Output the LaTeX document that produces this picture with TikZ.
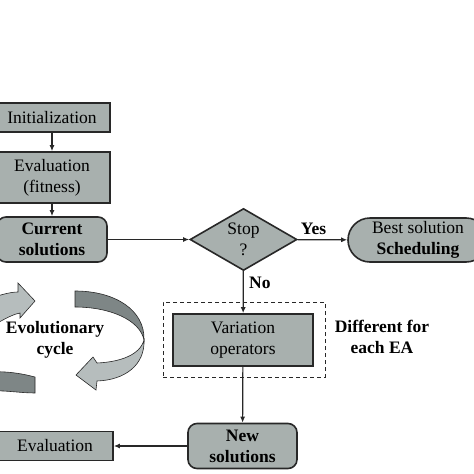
\documentclass[tikz,border=0pt]{standalone}
\usepackage{fontspec}
\setmainfont{Liberation Serif}
\usetikzlibrary{shapes.geometric, arrows.meta}
\definecolor{boxgray}{RGB}{168,176,174}
\definecolor{ribbondark}{RGB}{126,134,134}
\definecolor{ribbonlight}{RGB}{182,189,189}
\definecolor{linegray}{RGB}{40,40,40}

\begin{document}
\begin{tikzpicture}[x = 1pt, y = -1pt,
    font = \fontsize{17.5}{21}\selectfont,
    box/.style      = {draw = linegray, line width = 1.6pt, fill = boxgray,
                       inner sep = 0pt, align = center},
    roundbox/.style = {box, rounded corners = 9pt, font = \fontsize{17.5}{21}\selectfont\bfseries},
    decision/.style = {box, diamond, aspect = 1.73},
    arr/.style      = {draw = linegray, line width = 1.2pt, -{Latex[length = 6pt, width = 5pt]}},
    ribbon/.style   = {draw = linegray, line width = 0.6pt, fill = #1},
    bold/.style     = {font = \fontsize{17.5}{21}\selectfont\bfseries, align = center}]
    \clip (0, 0) rectangle (474, 474);
    \fill[white] (0, 0) rectangle (474, 474);
    % boxes of the flow chart
    \node[box, minimum width = 116pt, minimum height = 29pt]      (init)  at ( 52,   117.5) {Initialization};
    \node[box, minimum width = 116pt, minimum height = 51pt]      (eval1) at ( 52,   177.5) {Evaluation\\(fitness)};
    \node[roundbox, minimum width = 110pt, minimum height = 45pt] (curr)  at ( 52,   239.5) {Current\\solutions};
    \node[decision, minimum width = 107pt, minimum height = 62pt] (stop)  at (243.5, 239.5) {Stop\\?};
    \node[box, rounded corners = 22pt, minimum width = 140pt, minimum height = 44pt]
                                                                  (best)  at (418,   240)   {Best solution\\\textbf{Scheduling}};
    \node[draw = linegray, line width = 1pt, dash pattern = on 4pt off 3pt,
          minimum width = 162pt, minimum height = 75pt]           (eabox) at (244,   339.5) {};
    \node[box, minimum width = 140pt, minimum height = 52pt]      (varop) at (243,   340)   {Variation\\operators};
    \node[roundbox, minimum width = 109pt, minimum height = 45pt] (new)   at (242.5, 446)   {New\\solutions};
    \node[box, minimum width = 116pt, minimum height = 29pt]      (eval2) at ( 55,   446)   {Evaluation};
    \node[bold] (diff) at (382, 337)   {Different for\\each EA};
    \node[bold] (cyc)  at ( 55, 339.5) {Evolutionary\\cycle};
    % arrows between the boxes
    \draw[arr] (init)  -- (eval1);
    \draw[arr] (eval1) -- (curr);
    \draw[arr] (curr)  -- (stop);
    \draw[arr] (stop)  -- (best)  node[bold, pos = 0.32, above = 1pt] {Yes};
    \draw[arr] (stop)  -- (varop) node[bold, pos = 0.27, right = 2pt] {No};
    \draw[arr] (varop) -- (new);
    \draw[arr] (new)   -- (eval2);
    % ribbons of the evolutionary cycle
    \draw[ribbon = ribbondark]  (75, 291) .. controls (115, 291) and (145, 310) .. (144, 340)
                                .. controls (140, 320) and (110, 307) .. (75, 307) -- cycle;
    \draw[ribbon = ribbonlight] (144, 340) .. controls (140, 355) and (120, 362) .. (97, 363)
                                -- (93, 357) -- (76, 375) -- (96, 390) -- (97, 381)
                                .. controls (125, 380) and (145, 365) .. (144, 340) -- cycle;
    \draw[ribbon = ribbondark]  (35, 377) .. controls (20, 373) and (5, 371) .. (-12, 372)
                                -- (-12, 391) .. controls (5, 390) and (20, 393) .. (35, 393) -- cycle;
    \draw[ribbon = ribbonlight] (-12, 299) .. controls (0, 295) and (10, 292) .. (18, 292)
                                -- (18, 283) -- (35, 301) -- (20, 318) -- (20, 313)
                                .. controls (10, 315) and (0, 322) .. (-12, 328) -- cycle;
  \end{tikzpicture}
\end{document}
